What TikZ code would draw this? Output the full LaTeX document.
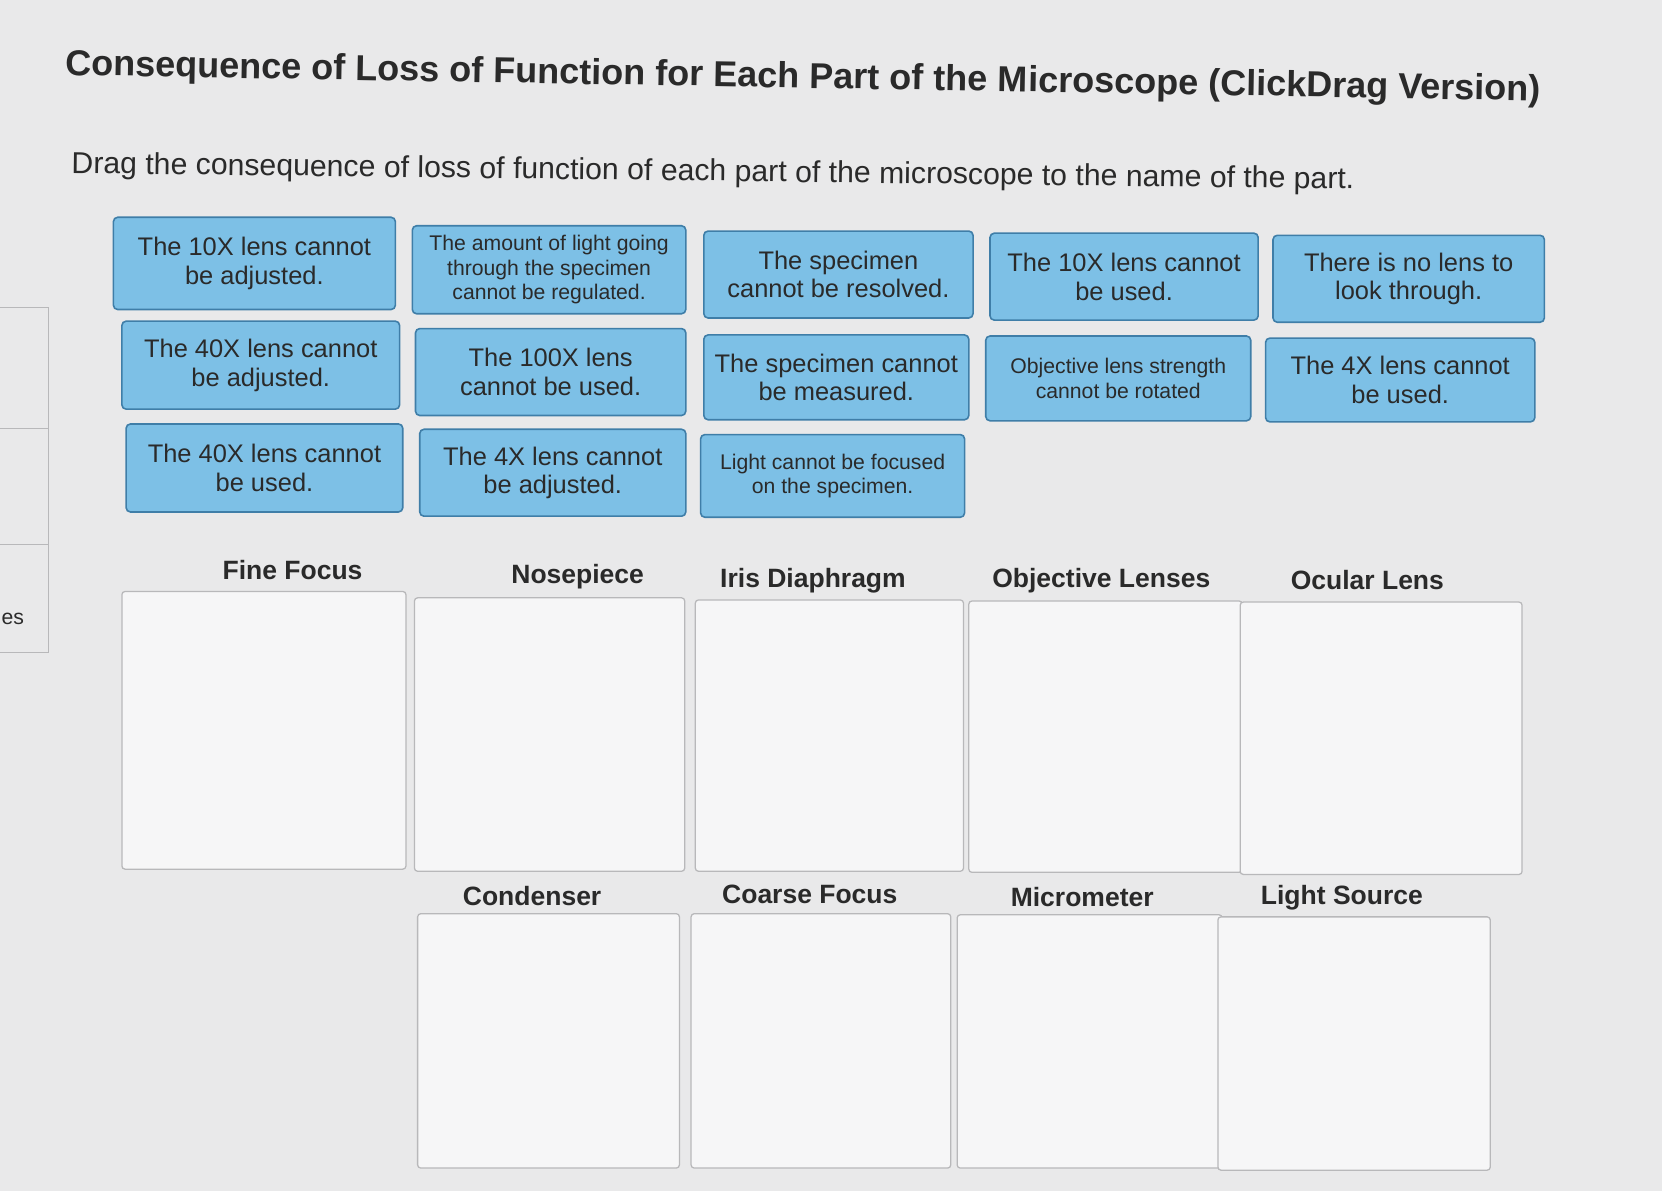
\documentclass[tikz,border=0pt]{standalone}
\usepackage{fontspec}
\setmainfont{Liberation Sans}
\definecolor{bg}{HTML}{E9E9EA}
\definecolor{bfill}{HTML}{7DC0E6}
\definecolor{bdraw}{HTML}{3F7EA8}
\definecolor{gline}{HTML}{B8B8BA}
\definecolor{txt}{HTML}{2A2A2A}
\tikzset{
 cb/.style={draw=bdraw,line width=1.5pt,fill=bfill,rounded corners=4pt,align=center,inner sep=0pt,text=txt,font=\fontsize{24}{27}\selectfont},
 cbs/.style={cb,font=\fontsize{20}{23}\selectfont},
 db/.style={draw=gline,line width=1.2pt,fill=white!60!bg,rounded corners=3pt,inner sep=0pt},
 lb/.style={font=\bfseries\fontsize{25}{28}\selectfont,text=txt}
}
\newcommand\mybox[7]{\node[#1,minimum width={(#4-#2)*1pt},minimum height={(#5-#3)*1pt}] (#6) at ({(#2+#4)/2},{(#3+#5)/2}) {#7};}
\begin{document}
\begin{tikzpicture}[x=1pt,y=-1pt]
\fill[bg] (0,0) rectangle (1568,1124);
\useasboundingbox (0,0) rectangle (1568,1124);
\draw[gline,line width=1pt] (-5,290) -- (46,290) -- (46,616) -- (-5,616);
\draw[gline,line width=1pt] (0,404) -- (46,404) (0,514) -- (46,514);
\node[font=\fontsize{20}{22}\selectfont,text=txt,anchor=west] (es) at (-2,584) {es};
\node[anchor=west,font=\bfseries\fontsize{34}{38}\selectfont,text=txt,rotate=-1] (title) at (58,62) {Consequence of Loss of Function for Each Part of the Microscope (ClickDrag Version)};
\node[anchor=west,font=\fontsize{28.5}{32}\selectfont,text=txt,rotate=-0.7] (sub) at (64,156) {Drag the consequence of loss of function of each part of the microscope to the name of the part.};
\mybox{cb}{107}{205}{373}{292}{a1}{The 10X lens cannot\\be adjusted.}
\mybox{cbs}{389}{213}{647}{296}{a2}{The amount of light going\\through the specimen\\cannot be regulated.}
\mybox{cb}{664}{218}{918}{300}{a3}{The specimen\\cannot be resolved.}
\mybox{cb}{934}{220}{1187}{302}{a4}{The 10X lens cannot\\be used.}
\mybox{cb}{1201}{222}{1457}{304}{a5}{There is no lens to\\look through.}
\mybox{cb}{115}{303}{377}{386}{b1}{The 40X lens cannot\\be adjusted.}
\mybox{cb}{392}{310}{647}{392}{b2}{The 100X lens\\cannot be used.}
\mybox{cb}{664}{316}{914}{396}{b3}{The specimen cannot\\be measured.}
\mybox{cbs}{930}{317}{1180}{397}{b4}{Objective lens strength\\cannot be rotated}
\mybox{cb}{1194}{319}{1448}{398}{b5}{The 4X lens cannot\\be used.}
\mybox{cb}{119}{400}{380}{483}{c1}{The 40X lens cannot\\be used.}
\mybox{cb}{396}{405}{647}{487}{c2}{The 4X lens cannot\\be adjusted.}
\mybox{cbs}{661}{410}{910}{488}{c3}{Light cannot be focused\\on the specimen.}
\node[lb] (l1) at (276,538) {Fine Focus};
\node[lb] (l2) at (545,544) {Nosepiece};
\node[lb] (l3) at (767,548) {Iris Diaphragm};
\node[lb] (l4) at (1039,548) {Objective Lenses};
\node[lb] (l5) at (1290,547) {Ocular Lens};
\mybox{db}{115}{558}{383}{820}{d1}{}
\mybox{db}{391}{564}{646}{822}{d2}{}
\mybox{db}{656}{566}{909}{822}{d3}{}
\mybox{db}{914}{567}{1172}{823}{d4}{}
\mybox{db}{1170}{568}{1436}{825}{d5}{}
\node[lb] (l6) at (502,845) {Condenser};
\node[lb] (l7) at (764,844) {Coarse Focus};
\node[lb] (l8) at (1021,846) {Micrometer};
\node[lb] (l9) at (1266,847) {Light Source};
\mybox{db}{394}{862}{641}{1102}{e1}{}
\mybox{db}{652}{862}{897}{1102}{e2}{}
\mybox{db}{903}{863}{1153}{1102}{e3}{}
\mybox{db}{1149}{865}{1406}{1104}{e4}{}
\end{tikzpicture}
\end{document}
